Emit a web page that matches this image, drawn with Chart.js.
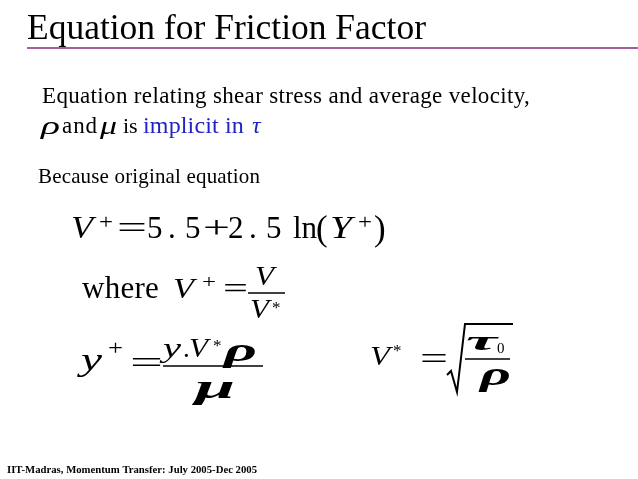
<!DOCTYPE html>
<html>
<head>
<meta charset="utf-8">
<title>Equation for Friction Factor</title>
<script src="https://cdn.jsdelivr.net/npm/chart.js@4.4.1/dist/chart.umd.min.js"></script>
<style>
  html, body { margin: 0; padding: 0; background: #ffffff; }
  #wrap { width: 638px; height: 479px; }
</style>
</head>
<body>
<div id="wrap"><canvas id="slide" width="638" height="479"></canvas></div>
<script>
/* -------------------------
    Slide content
------------------------- */
const titleText = ["Equation for Friction Factor"];
const bodyLines = ["Equation relating shear stress and average velocity,", "Because original equation"];
const implicitLine = ["\u03C1", "and", "\u03BC", "is", "implicit in", "\u03C4"];
const lawConstants = [5.5, 2.5];          // V+ = A + B ln(Y+)
const footerText = ["IIT-Madras, Momentum Transfer: July 2005-Dec 2005"];

const SERIF = '"Liberation Serif", "Times New Roman", serif';
const BLUE = "#2222c4";
const RULE = "#a4609a";

let px, py;

// draw a text piece; w = target width (letter spacing when wider, squeeze when narrower)
// sw = plain horizontal stretch to width (for single glyphs)
function put(ctx, str, x, y, font, color, w, sw) {
  ctx.save();
  ctx.font = font;
  ctx.fillStyle = color || "#000";
  ctx.textAlign = "left";
  ctx.textBaseline = "alphabetic";
  ctx.translate(px(x), py(y));
  const m = ctx.measureText(str).width;
  if (sw) {
    ctx.scale(sw / m, 1);
  } else if (w) {
    if (w > m && "letterSpacing" in ctx) {
      ctx.letterSpacing = ((w - m) / str.length).toFixed(2) + "px";
    } else {
      ctx.scale(w / m, 1);
    }
  }
  ctx.fillText(str, 0, 0);
  ctx.restore();
}

function line(ctx, pts, width, color) {
  ctx.save();
  ctx.strokeStyle = color || "#000";
  ctx.lineWidth = width;
  ctx.lineJoin = "miter";
  ctx.beginPath();
  pts.forEach((p, i) => i ? ctx.lineTo(px(p[0]), py(p[1])) : ctx.moveTo(px(p[0]), py(p[1])));
  ctx.stroke();
  ctx.restore();
}

// digits of a constant spread out like the equation editor does
function number(ctx, val, x, y, font) {
  const s = String(val);
  const steps = [0, 21, 38];
  s.split("").forEach((c, i) => put(ctx, c, x + steps[i], y, font));
}

const slidePlugin = {
  id: "slide",
  afterDraw(chart) {
    const ctx = chart.ctx;
    const xs = chart.scales.x, ys = chart.scales.y;
    px = v => xs.getPixelForValue(v);
    py = v => ys.getPixelForValue(v);

    /* title + rule */
    put(ctx, titleText[0], 27, 39, "36px " + SERIF, "#000", 399);
    line(ctx, [[27, 48], [638, 48]], 2, RULE);

    /* body text */
    put(ctx, bodyLines[0], 42, 103, "23px " + SERIF, "#000", 488);
    put(ctx, implicitLine[0], 41, 134, "italic 26px " + SERIF, "#000", 0, 19);
    put(ctx, implicitLine[1], 62, 133, "23px " + SERIF, "#000", 36);
    put(ctx, implicitLine[2], 100, 134, "italic 26px " + SERIF, "#000", 0, 17);
    put(ctx, implicitLine[3], 123, 133, "22px " + SERIF);
    put(ctx, implicitLine[4], 143, 133, "24px " + SERIF, BLUE, 101);
    put(ctx, implicitLine[5], 252, 133, "italic 24px " + SERIF, BLUE);
    put(ctx, bodyLines[1], 38, 183, "21px " + SERIF, "#000", 222);

    /* V+ = 5.5 + 2.5 ln(Y+) */
    const f1 = "31px " + SERIF;
    put(ctx, "V", 71, 238, "italic 31px " + SERIF, "#000", 0, 22);
    put(ctx, "+", 99, 229, "20px " + SERIF, "#000", 0, 14);
    put(ctx, "=", 117, 238, f1, "#000", 0, 30);
    number(ctx, lawConstants[0], 147, 238, f1);
    put(ctx, "+", 203, 238, f1, "#000", 0, 27);
    number(ctx, lawConstants[1], 228, 238, f1);
    put(ctx, "ln", 293, 238, f1);
    put(ctx, "(", 316, 240, "35px " + SERIF);
    put(ctx, "Y", 330, 238, "italic 31px " + SERIF, "#000", 0, 22);
    put(ctx, "+", 358, 229, "20px " + SERIF, "#000", 0, 14);
    put(ctx, ")", 374, 240, "35px " + SERIF);

    /* where V+ = V / V* */
    put(ctx, "where", 82, 298, "31px " + SERIF, "#000", 77);
    put(ctx, "V", 173, 298, "italic 29px " + SERIF, "#000", 0, 21);
    put(ctx, "+", 202, 288, "19px " + SERIF, "#000", 0, 14);
    put(ctx, "=", 223, 298, "29px " + SERIF, "#000", 0, 25);
    line(ctx, [[248, 293], [285, 293]], 1.5);
    put(ctx, "V", 255, 285, "italic 27px " + SERIF, "#000", 0, 19);
    put(ctx, "V", 250, 318, "italic 27px " + SERIF, "#000", 0, 19);
    put(ctx, "*", 272, 313, "17px " + SERIF);

    /* y+ = y.V* rho / mu */
    put(ctx, "y", 81, 370, "italic 31px " + SERIF, "#000", 0, 21);
    put(ctx, "+", 108, 355, "20px " + SERIF, "#000", 0, 15);
    put(ctx, "=", 130, 373, "31px " + SERIF, "#000", 0, 33);
    line(ctx, [[163, 366], [263, 366]], 1.5);
    put(ctx, "y", 163, 357, "italic 27px " + SERIF, "#000", 0, 18);
    put(ctx, ".", 183, 357, "27px " + SERIF);
    put(ctx, "V", 189, 357, "italic 27px " + SERIF, "#000", 0, 19);
    put(ctx, "*", 213, 351, "17px " + SERIF);
    put(ctx, "\u03C1", 224, 361, "bold italic 34px " + SERIF, "#000", 0, 33);
    put(ctx, "\u03BC", 195, 398, "bold italic 34px " + SERIF, "#000", 0, 40);

    /* V* = sqrt(tau0 / rho) */
    put(ctx, "V", 370, 365, "italic 28px " + SERIF, "#000", 0, 20);
    put(ctx, "*", 393, 356, "17px " + SERIF);
    put(ctx, "=", 420, 369, "31px " + SERIF, "#000", 0, 28);
    line(ctx, [[447, 375], [451, 371], [457, 392], [465, 324], [513, 324]], 2);
    line(ctx, [[465, 359], [510, 359]], 1.5);
    put(ctx, "\u03C4", 466, 350, "bold italic 28px " + SERIF, "#000", 0, 31);
    put(ctx, "0", 497, 353, "15px " + SERIF);
    put(ctx, "\u03C1", 480, 385, "bold italic 34px " + SERIF, "#000", 0, 31);

    /* footer */
    put(ctx, footerText[0], 7, 473, "bold 11px " + SERIF, "#000", 250);
  }
};

new Chart(document.getElementById("slide"), {
  type: "scatter",
  data: { datasets: [] },
  options: {
    responsive: false,
    animation: false,
    events: [],
    layout: { padding: 0 },
    plugins: { legend: { display: false }, tooltip: { enabled: false }, title: { display: false } },
    scales: {
      x: { type: "linear", min: 0, max: 638, display: false },
      y: { type: "linear", min: 0, max: 479, reverse: true, display: false }
    }
  },
  plugins: [slidePlugin]
});
</script>
</body>
</html>
